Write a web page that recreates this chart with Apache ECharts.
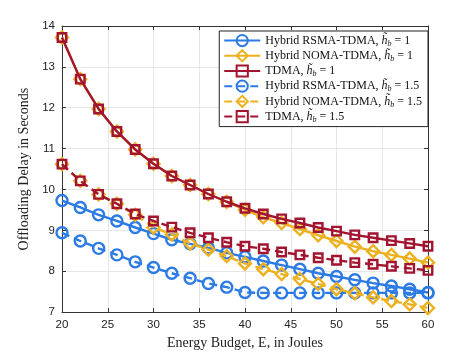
<!DOCTYPE html>
<html><head><meta charset="utf-8">
<script src="https://cdn.jsdelivr.net/npm/echarts@6/dist/echarts.min.js"></script>
<style>html,body{margin:0;padding:0;background:#fff}#c{width:474px;height:355px}</style>
</head><body><div id="c"></div>
<script>
const energy = [20,22,24,26,28,30,32,34,36,38,40,42,44,46,48,50,52,54,56,58,60];
const rsma1   = [9.73,9.56,9.38,9.23,9.07,8.92,8.77,8.67,8.57,8.45,8.35,8.25,8.15,8.05,7.95,7.87,7.79,7.71,7.64,7.56,7.48];
const noma1   = [13.72,12.70,11.97,11.42,10.98,10.63,10.33,10.11,9.89,9.70,9.50,9.32,9.18,9.03,8.88,8.74,8.60,8.49,8.40,8.31,8.21];
const tdma1   = [13.72,12.70,11.97,11.42,10.98,10.63,10.33,10.11,9.89,9.70,9.54,9.40,9.28,9.18,9.07,8.98,8.89,8.82,8.75,8.68,8.61];
const rsma15  = [8.94,8.74,8.56,8.40,8.23,8.09,7.95,7.83,7.70,7.61,7.48,7.47,7.47,7.47,7.47,7.47,7.47,7.47,7.47,7.47,7.47];
const noma15  = [10.62,10.21,9.88,9.65,9.38,9.07,8.90,8.68,8.53,8.37,8.19,8.05,7.93,7.81,7.69,7.56,7.46,7.36,7.27,7.19,7.10];
const tdma15  = [10.62,10.21,9.88,9.65,9.40,9.23,9.08,8.94,8.82,8.71,8.61,8.55,8.47,8.40,8.33,8.27,8.21,8.17,8.12,8.07,8.02];
const schemes = ['Hybrid RSMA-TDMA','Hybrid NOMA-TDMA','TDMA','Hybrid RSMA-TDMA','Hybrid NOMA-TDMA','TDMA'];
const hvals = ['1','1','1','1.5','1.5','1.5'];
const xTicks = [20,25,30,35,40,45,50,55,60];
const yTicks = [7,8,9,10,11,12,13,14];

const BLUE='#2C7BE5', YEL='#EDB120', RED='#A2142F';
const seriesData=[rsma1,noma1,tdma1,rsma15,noma15,tdma15];
const colors=[BLUE,YEL,RED,BLUE,YEL,RED];
const symbols=['circle','diamond','rect','circle','diamond','rect'];
const sizes=[11,12,8.5,11,12,8.5];
const names=schemes.map((s,i)=>s+', h'+i+' = '+hvals[i]);
const series=seriesData.map((d,i)=>({
  name:names[i], type:'line', data:energy.map((x,j)=>[x,d[j]]),
  symbol:symbols[i], symbolSize:sizes[i], showSymbol:true,
  z: [2,3,4,2,3,4][i],
  lineStyle:{color:colors[i],width:2.4,type:i<3?'solid':[8,5]},
  itemStyle:{color:'rgba(255,255,255,0)',borderColor:colors[i],borderWidth:2.4},
  emphasis:{disabled:true}, animation:false
}));
const serif='"Liberation Serif","DejaVu Serif",serif';
const chart=echarts.init(document.getElementById('c'),null,{renderer:'canvas'});
chart.setOption({
  animation:false,
  grid:{left:62,right:46,top:26,bottom:40},
  xAxis:[{type:'value',min:20,max:60,interval:5,
    name:'Energy Budget, E, in Joules',nameLocation:'middle',nameGap:21,
    nameTextStyle:{fontFamily:serif,fontSize:14,color:'#222'},
    axisLine:{lineStyle:{color:'#333',width:1}},
    axisTick:{inside:true,length:4,lineStyle:{color:'#333'}},
    axisLabel:{color:'#222',fontSize:11.5,fontFamily:'"Liberation Sans",Arial,sans-serif',margin:7,
      formatter:v=>xTicks.includes(v)?String(v):''},
    splitLine:{show:true,lineStyle:{color:'#e6e6e6',width:1}}},
   {type:'value',position:'top',min:20,max:60,interval:5,
    axisLine:{show:true,lineStyle:{color:'#333'}},axisTick:{inside:true,length:4,lineStyle:{color:'#333'}},
    axisLabel:{show:false},splitLine:{show:false}}],
  yAxis:[{type:'value',min:7,max:14,interval:1,
    name:'Offloading Delay in Seconds',nameLocation:'middle',nameGap:23,
    nameTextStyle:{fontFamily:serif,fontSize:14,color:'#222'},
    axisLine:{show:true,lineStyle:{color:'#333',width:1}},
    axisTick:{show:true,inside:true,length:4,lineStyle:{color:'#333'}},
    axisLabel:{color:'#222',fontSize:11.5,fontFamily:'"Liberation Sans",Arial,sans-serif',margin:7,
      formatter:v=>yTicks.includes(v)?String(v):''},
    splitLine:{show:true,lineStyle:{color:'#e6e6e6',width:1}}},
   {type:'value',position:'right',min:7,max:14,interval:1,
    axisLine:{show:true,lineStyle:{color:'#333'}},axisTick:{show:true,inside:true,length:4,lineStyle:{color:'#333'}},
    axisLabel:{show:false},splitLine:{show:false}}],
  legend:{orient:'vertical',right:46,top:31,width:190,
    backgroundColor:'#fff',borderColor:'#222',borderWidth:1,borderRadius:0,
    padding:[3,6,3,4],itemGap:1.6,itemWidth:36,itemHeight:14,
    data:names,
    formatter:function(n){const i=names.indexOf(n);return '{t|'+schemes[i]+', }{i|h\u0303}{s|b}{t| = '+hvals[i]+'}';},
    textStyle:{fontFamily:serif,fontSize:12,color:'#111',
      rich:{t:{fontFamily:serif,fontSize:12,color:'#111'},
            i:{fontFamily:serif,fontSize:12,fontStyle:'italic',color:'#111'},
            s:{fontFamily:serif,fontSize:8,fontStyle:'italic',color:'#111',verticalAlign:'bottom',padding:[6,0,0,0]}}}
  },
  series:series
});
</script></body></html>
